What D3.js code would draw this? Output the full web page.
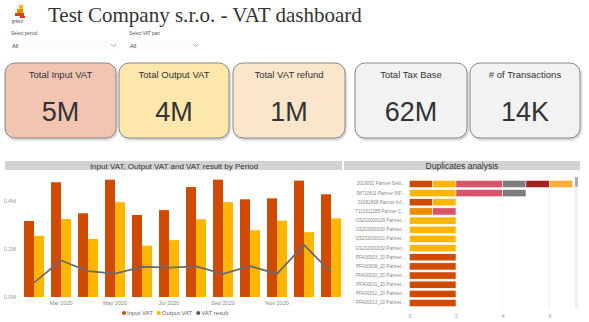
<!DOCTYPE html>
<html><head><meta charset="utf-8">
<script src="https://cdn.jsdelivr.net/npm/d3@7/dist/d3.min.js"></script>
<style>
html,body{margin:0;padding:0;background:#fff;overflow:hidden;}
svg{display:block;font-family:"Liberation Sans",Arial,sans-serif;}
</style></head>
<body><svg id="c" width="589" height="322"></svg>
<script>
// ---- Data ----
const kpiTitles = ["Total Input VAT","Total Output VAT","Total VAT refund","Total Tax Base","# of Transactions"];
const kpiValues = ["5M","4M","1M","62M","14K"];
const kpiFills = ["#f2c5b3","#fde7ab","#fbe6cb","#f2f2f2","#f2f2f2"];

const months = ["Feb 2020","Mar 2020","Apr 2020","May 2020","Jun 2020","Jul 2020","Aug 2020","Sep 2020","Oct 2020","Nov 2020","Dec 2020","Jan 2021"];
const monthTickLabels = ["Mar 2020","May 2020","Jul 2020","Sep 2020","Nov 2020"];
const inputVAT  = [0.317,0.478,0.349,0.489,0.342,0.362,0.458,0.489,0.407,0.411,0.485,0.428];
const outputVAT = [0.255,0.325,0.242,0.395,0.214,0.237,0.324,0.395,0.278,0.318,0.270,0.328];
const vatResult = [0.060,0.152,0.108,0.097,0.126,0.122,0.128,0.096,0.129,0.096,0.217,0.103];
const yTicks = [0,0.2,0.4];

const dupPartners = ["2019002 Partner Delti...","98710611 Partner INF...","01081808 Partner Inf...","7110311285 Partner C...","GS202000029 Partner...","GS202000030 Partner...","GS202000031 Partner...","GS202000032 Partner...","PFA00003_20 Partner...","PFA00008_20 Partner...","PFA00010_20 Partner...","PFA00011_20 Partner...","PFA00012_20 Partner...","PFA00013_20 Partner..."];
const dupKeys = ["k1","k2","k3","k4","k5","k6","k7"];
const dupK1 = [1,0,1,0,0,0,0,0,2,2,2,2,2,2];
const dupK2 = [0,0,0,1,0,0,0,0,0,0,0,0,0,0];
const dupK3 = [1,2,1,0,2,2,2,2,0,0,0,0,0,0];
const dupK4 = [2,2,0,1,0,0,0,0,0,0,0,0,0,0];
const dupK5 = [1,1,0,0,0,0,0,0,0,0,0,0,0,0];
const dupK6 = [1,0,0,0,0,0,0,0,0,0,0,0,0,0];
const dupK7 = [1,0,0,0,0,0,0,0,0,0,0,0,0,0];
const dupColors = ["#d04a02","#eb8c00","#ffb600","#db536a","#7d7d7d","#a32020","#fdae3a"];
const dupTicks = [0,2,4,6];

const svg = d3.select("#c");
const txt = "#333";

// ---- Header ----
const logo = svg.append("g").attr("transform","translate(12,4)");
logo.append("rect").attr("x",7).attr("y",1).attr("width",4).attr("height",4).attr("fill","#ffb600");
logo.append("rect").attr("x",5).attr("y",5).attr("width",6).attr("height",4).attr("fill","#eb8c00");
logo.append("rect").attr("x",3).attr("y",9).attr("width",9).attr("height",3).attr("fill","#d04a02");
logo.append("rect").attr("x",8).attr("y",12).attr("width",5).attr("height",2).attr("fill","#e0301e");
logo.append("text").attr("x",0).attr("y",19).attr("font-size",7).attr("font-family","Liberation Serif, serif").attr("fill","#333").text("pwc");

const title = svg.append("text").attr("x",48).attr("y",22)
  .attr("font-family","'Liberation Serif',serif").attr("font-size",23).attr("fill","#333")
  .text("Test Company s.r.o. - VAT dashboard");
const tw = title.node().getComputedTextLength();
title.attr("font-size", 23*314/tw);

// slicers
[[10,118,"Select period"],[128,200,"Select VAT part"]].forEach(([x0,x1,lab])=>{
  svg.append("text").attr("x",x0+1).attr("y",35).attr("font-size",4.5).attr("fill","#555").text(lab);
  svg.append("rect").attr("x",x0).attr("y",40).attr("width",x1-x0).attr("height",10).attr("fill","#fcfcfc");
  svg.append("text").attr("x",x0+2).attr("y",47.5).attr("font-size",5.5).attr("fill","#444").text("All");
  svg.append("path").attr("d",`M${x1-7},44 l2.5,2.5 l2.5,-2.5`).attr("fill","none").attr("stroke","#888").attr("stroke-width",0.7);
});

// ---- KPI cards ----
const defs = svg.append("defs");
const f = defs.append("filter").attr("id","sh").attr("x","-10%").attr("y","-10%").attr("width","130%").attr("height","130%");
f.append("feDropShadow").attr("dx",1).attr("dy",1.5).attr("stdDeviation",1.2).attr("flood-color","#000").attr("flood-opacity",0.25);
const cardX = [[5,116],[119,229],[233,345],[355,467],[470,580]];
kpiTitles.forEach((t,i)=>{
  const [x0,x1] = cardX[i];
  const g = svg.append("g");
  g.append("rect").attr("x",x0).attr("y",63).attr("width",x1-x0).attr("height",75).attr("rx",10)
    .attr("fill",kpiFills[i]).attr("stroke","#8a8a8a").attr("stroke-width",1).attr("filter","url(#sh)");
  g.append("text").attr("x",(x0+x1)/2).attr("y",78).attr("text-anchor","middle").attr("font-size",9.5).attr("fill",txt).text(t);
  g.append("text").attr("x",(x0+x1)/2).attr("y",121).attr("text-anchor","middle").attr("font-size",27).attr("fill",txt).text(kpiValues[i]);
});

// ---- Section bands ----
svg.append("rect").attr("x",5).attr("y",161).attr("width",337).attr("height",9).attr("fill","#d2d2d2");
svg.append("text").attr("x",174).attr("y",168.5).attr("text-anchor","middle").attr("font-size",8).attr("fill",txt)
  .text("Input VAT, Output VAT and VAT result by Period");
svg.append("rect").attr("x",344).attr("y",161).attr("width",236).attr("height",9).attr("fill","#d2d2d2");
svg.append("text").attr("x",462).attr("y",168.5).attr("text-anchor","middle").attr("font-size",8.5).attr("fill",txt)
  .text("Duplicates analysis");

// ---- Bar/line combo ----
const x = d3.scaleBand().domain(months).range([20.5,344.5]).paddingInner(0.26).paddingOuter(0.13);
const xs = d3.scaleBand().domain(["in","out"]).range([0,x.bandwidth()]);
const y = d3.scaleLinear().domain([0,0.5]).range([297,177]);

const yAxis = svg.append("g").attr("transform","translate(19,0)")
  .call(d3.axisLeft(y).tickValues(yTicks).tickSize(0).tickFormat(d=>d3.format(".1f")(d)+"M"));
yAxis.select(".domain").remove();
yAxis.selectAll("text").attr("font-size",5.5).attr("fill","#999").attr("font-family","Liberation Sans, Arial, sans-serif");

const xAxis = svg.append("g").attr("transform","translate(0,297)")
  .call(d3.axisBottom(x).tickValues(monthTickLabels).tickSize(0).tickPadding(4));
xAxis.select(".domain").remove();
xAxis.selectAll("text").attr("font-size",5.5).attr("fill","#888").attr("font-family","Liberation Sans, Arial, sans-serif");

const grp = svg.append("g").selectAll("g").data(months).join("g").attr("transform",d=>`translate(${x(d)},0)`);
grp.append("rect").attr("x",xs("in")).attr("width",xs.bandwidth()).attr("y",(d,i)=>y(inputVAT[i])).attr("height",(d,i)=>y(0)-y(inputVAT[i])).attr("fill","#d04a02");
grp.append("rect").attr("x",xs("out")).attr("width",xs.bandwidth()).attr("y",(d,i)=>y(outputVAT[i])).attr("height",(d,i)=>y(0)-y(outputVAT[i])).attr("fill","#ffb600");

const line = d3.line().x((d,i)=>x(months[i])+x.bandwidth()/2).y(d=>y(d));
svg.append("path").datum(vatResult).attr("d",line).attr("fill","none").attr("stroke","#6b6b6b").attr("stroke-width",1.8).attr("stroke-linejoin","round");

// legend
const leg = [["Input VAT","#d04a02"],["Output VAT","#ffb600"],["VAT result","#555"]];
const lg = svg.append("g").attr("transform","translate(0,313)");
let lx = 122;
leg.forEach(([t,c])=>{
  lg.append("circle").attr("cx",lx+2).attr("cy",0).attr("r",2).attr("fill",c);
  const tt = lg.append("text").attr("x",lx+5).attr("y",2).attr("font-size",6).attr("fill","#666").text(t);
  lx += 5 + tt.node().getComputedTextLength() + 4;
});

// ---- Duplicates stacked bars ----
const dupRows = dupPartners.map((p,i)=>({partner:p,k1:dupK1[i],k2:dupK2[i],k3:dupK3[i],k4:dupK4[i],k5:dupK5[i],k6:dupK6[i],k7:dupK7[i]}));
const stack = d3.stack().keys(dupKeys)(dupRows);
const dx = d3.scaleLinear().domain([0,7.5]).range([409.3,584.3]);
const dy = d3.scaleBand().domain(dupPartners).range([179.5,307.5]).paddingInner(0.22).paddingOuter(0.1);

const gx = svg.append("g").attr("transform","translate(0,311)")
  .call(d3.axisBottom(dx).tickValues(dupTicks).tickSize(0).tickPadding(3).tickFormat(d3.format("d")));
gx.select(".domain").remove();
gx.selectAll("text").attr("font-size",5).attr("fill","#999").attr("font-family","Liberation Sans, Arial, sans-serif");
svg.append("g").selectAll("line").data(dupTicks.slice(1)).join("line")
  .attr("x1",d=>dx(d)).attr("x2",d=>dx(d)).attr("y1",178).attr("y2",309).attr("stroke","#eee").attr("stroke-width",0.7);

svg.append("g").selectAll("g").data(stack).join("g").attr("fill",(d,i)=>dupColors[i])
  .selectAll("rect").data(d=>d.filter(s=>s[1]>s[0])).join("rect")
  .attr("x",d=>dx(d[0])).attr("width",d=>dx(d[1])-dx(d[0]))
  .attr("y",d=>dy(d.data.partner)).attr("height",dy.bandwidth())
  .attr("stroke","#fff").attr("stroke-width",0.5);

const gy = svg.append("g").attr("transform","translate(405,0)")
  .call(d3.axisLeft(dy).tickSize(0).tickPadding(0));
gy.select(".domain").remove();
gy.selectAll("text").attr("font-size",4.6).attr("fill","#888").attr("font-family","Liberation Sans, Arial, sans-serif");

// scrollbar
svg.append("rect").attr("x",575).attr("y",177).attr("width",3).attr("height",132).attr("fill","#f0f0f0");
svg.append("rect").attr("x",575).attr("y",177).attr("width",3).attr("height",10).attr("rx",1).attr("fill","#aaa");
</script></body></html>
